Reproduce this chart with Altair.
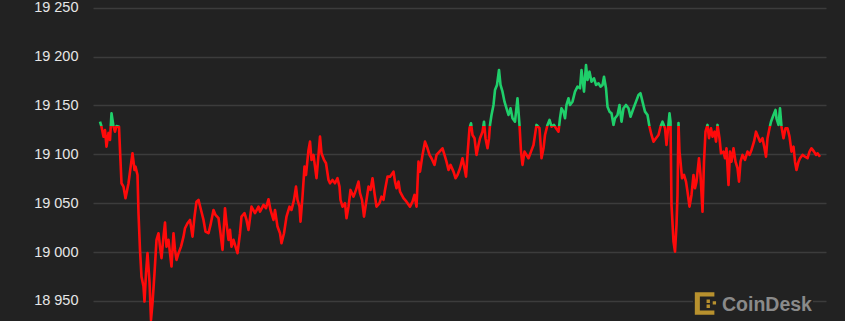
import altair as alt
import pandas as pd

# minutes since start of the 24h window (hidden x axis)
minutes = [0, 3, 7, 10, 13, 17, 20, 23, 27, 30, 33, 38, 40, 43, 47, 51, 57, 60, 65, 69,
           71, 75, 77, 80, 83, 87, 89, 92, 95, 99, 102, 105, 109, 113, 117, 120, 123, 127, 130, 133,
           137, 140, 143, 147, 150, 153, 157, 162, 167, 170, 175, 180, 185, 189, 193, 197, 202, 207, 211, 217,
           221, 227, 231, 237, 241, 245, 250, 253, 257, 260, 263, 267, 270, 275, 280, 283, 289, 293, 297, 303,
           310, 317, 320, 327, 332, 337, 341, 347, 350, 355, 360, 363, 368, 373, 379, 383, 388, 392, 395, 399,
           401, 405, 409, 412, 417, 420, 423, 427, 430, 433, 437, 440, 443, 448, 452, 457, 460, 465, 470, 475,
           479, 481, 485, 490, 493, 497, 501, 507, 512, 517, 520, 524, 528, 532, 537, 541, 545, 549, 553, 559,
           563, 567, 570, 575, 580, 587, 590, 593, 597, 600, 607, 613, 620, 625, 629, 633, 637, 640, 645, 650,
           655, 659, 663, 669, 673, 679, 685, 689, 693, 697, 701, 707, 711, 715, 720, 725, 729, 732, 735, 739,
           742, 745, 749, 753, 757, 760, 765, 768, 771, 775, 778, 780, 783, 787, 790, 794, 798, 801, 805, 809,
           813, 817, 821, 825, 830, 835, 839, 842, 845, 849, 853, 857, 862, 867, 873, 879, 883, 887, 890, 895,
           899, 903, 908, 912, 917, 920, 923, 927, 930, 933, 937, 940, 945, 950, 955, 960, 963, 968, 972, 975,
           979, 983, 988, 992, 997, 1001, 1005, 1008, 1012, 1015, 1019, 1023, 1027, 1030, 1035, 1039, 1043, 1047, 1052, 1057,
           1061, 1067, 1072, 1077, 1081, 1085, 1090, 1095, 1099, 1103, 1107, 1112, 1117, 1121, 1125, 1130, 1133, 1139, 1141, 1143,
           1147, 1150, 1153, 1155, 1157, 1159, 1161, 1164, 1168, 1172, 1175, 1179, 1183, 1187, 1190, 1193, 1198, 1201, 1205, 1208,
           1211, 1215, 1218, 1222, 1225, 1229, 1232, 1235, 1239, 1242, 1247, 1250, 1253, 1257, 1260, 1263, 1267, 1271, 1275, 1278,
           1281, 1285, 1290, 1295, 1299, 1303, 1308, 1312, 1316, 1320, 1325, 1329, 1332, 1335, 1339, 1342, 1347, 1351, 1353, 1357,
           1360, 1363, 1367, 1371, 1375, 1379, 1383, 1387, 1390, 1393, 1397, 1400, 1405, 1410, 1415, 1419, 1423, 1428, 1432, 1435,
           1440]

price = [19133.4, 19128.3, 19118.1, 19124.9, 19107.9, 19121.9, 19114.7, 19142.0, 19128.3, 19123.2,
         19129.0, 19128.3, 19104.5, 19070.4, 19067.0, 19055.1, 19070.4, 19082.3, 19101.1, 19084.0,
         19087.4, 19078.9, 19039.8, 19002.2, 18974.9, 18964.7, 18949.4, 18978.4, 18998.9, 18969.8,
         18930.7, 18947.7, 18978.4, 19012.5, 19019.3, 19005.6, 18993.8, 19015.8, 19030.2, 19005.6,
         19012.5, 18998.9, 18985.2, 19019.3, 19002.2, 18992.0, 18998.9, 19005.6, 19015.8, 19024.4,
         19029.5, 19032.9, 19015.8, 19036.3, 19051.6, 19053.4, 19043.1, 19032.9, 19021.0, 19019.3,
         19027.8, 19043.1, 19038.0, 19034.7, 19019.3, 19002.2, 19044.9, 19029.5, 19012.5, 19022.7,
         19005.6, 19012.5, 19007.4, 18998.9, 19019.3, 19036.3, 19039.8, 19032.9, 19022.7, 19046.5,
         19039.8, 19046.5, 19041.4, 19048.3, 19044.9, 19054.1, 19043.1, 19032.9, 19043.1, 19026.1,
         19019.3, 19009.1, 19019.3, 19036.3, 19046.5, 19043.1, 19053.4, 19067.0, 19053.4, 19046.5,
         19031.2, 19056.7, 19087.4, 19078.9, 19104.5, 19113.0, 19094.3, 19099.4, 19087.4, 19075.6,
         19099.4, 19118.1, 19101.1, 19094.3, 19090.9, 19073.8, 19070.4, 19073.8, 19070.4, 19075.6,
         19067.0, 19053.4, 19046.5, 19050.0, 19034.7, 19046.5, 19063.6, 19056.7, 19063.6, 19072.1,
         19060.2, 19053.4, 19036.3, 19050.0, 19067.0, 19063.6, 19075.6, 19060.2, 19046.5, 19050.0,
         19056.7, 19053.4, 19063.6, 19077.2, 19077.2, 19082.3, 19072.1, 19065.3, 19072.1, 19061.9,
         19055.1, 19051.6, 19046.5, 19051.6, 19058.5, 19046.5, 19092.5, 19082.3, 19099.4, 19113.0,
         19106.2, 19099.4, 19096.0, 19089.2, 19099.4, 19102.8, 19106.2, 19099.4, 19092.5, 19084.0,
         19089.2, 19082.3, 19075.6, 19078.9, 19085.8, 19096.0, 19085.8, 19077.2, 19099.4, 19126.7,
         19131.8, 19119.8, 19116.5, 19099.4, 19109.6, 19116.5, 19123.2, 19133.4, 19116.5, 19106.2,
         19116.5, 19130.1, 19140.3, 19150.5, 19165.8, 19171.0, 19186.3, 19171.0, 19164.1, 19153.9,
         19147.1, 19140.3, 19147.1, 19136.9, 19133.4, 19157.4, 19130.1, 19102.8, 19089.2, 19102.8,
         19099.4, 19096.0, 19102.8, 19109.6, 19130.1, 19126.7, 19096.0, 19106.2, 19119.8, 19130.1,
         19135.2, 19128.3, 19130.1, 19126.7, 19123.2, 19136.9, 19147.1, 19143.7, 19136.9, 19150.5,
         19157.4, 19150.5, 19153.9, 19164.1, 19169.2, 19167.6, 19186.3, 19164.1, 19191.4, 19176.1,
         19184.6, 19174.3, 19177.8, 19171.0, 19172.7, 19169.2, 19171.0, 19179.4, 19167.6, 19148.8,
         19143.7, 19142.0, 19130.1, 19136.9, 19140.3, 19150.5, 19133.4, 19147.1, 19150.5, 19147.1,
         19138.5, 19147.1, 19153.9, 19160.7, 19162.5, 19153.9, 19143.7, 19140.3, 19128.3, 19119.8,
         19113.0, 19116.5, 19119.8, 19128.3, 19133.4, 19126.7, 19109.6, 19142.0, 19133.4, 19048.3,
         19010.7, 19000.5, 19027.8, 19058.5, 19132.1, 19102.8, 19092.5, 19075.6, 19078.9, 19072.1,
         19061.9, 19046.5, 19058.5, 19078.9, 19065.3, 19072.1, 19096.0, 19078.9, 19041.4, 19092.5,
         19123.2, 19130.1, 19116.5, 19126.7, 19118.1, 19123.2, 19113.0, 19130.1, 19116.5, 19101.1,
         19102.8, 19096.0, 19106.2, 19068.7, 19102.8, 19092.5, 19106.2, 19092.5, 19085.8, 19072.1,
         19092.5, 19099.4, 19094.3, 19102.8, 19099.4, 19104.5, 19113.0, 19123.2, 19118.1, 19113.0,
         19116.5, 19106.2, 19097.6, 19116.5, 19126.7, 19133.4, 19140.3, 19145.4, 19136.9, 19130.1,
         19147.1, 19128.3, 19116.5, 19126.7, 19126.7, 19118.1, 19102.8, 19107.9, 19092.5, 19084.0,
         19092.5, 19096.0, 19099.4, 19097.6, 19096.0, 19102.8, 19106.2, 19102.8, 19099.4, 19101.1,
         19097.6]

threshold = 19129.0
y_ticks = [18950, 19000, 19050, 19100, 19150, 19200, 19250]

BG = "#222222"
GREEN = "#1fcf6a"
RED = "#ff0a0a"
GOLD = "#b8912e"

df = pd.DataFrame({"t": minutes, "price": price})

pmax, pmin = max(price), min(price)
off = (pmax - threshold) / (pmax - pmin)

grad = alt.Gradient(
    gradient="linear",
    x1=0, y1=0, x2=0, y2=1,
    stops=[
        alt.GradientStop(offset=0, color=GREEN),
        alt.GradientStop(offset=off, color=GREEN),
        alt.GradientStop(offset=off, color=RED),
        alt.GradientStop(offset=1, color=RED),
    ],
)

x_enc = alt.X("t:Q", scale=alt.Scale(domain=[-14, 1452], nice=False, zero=False), axis=None)
y_enc = alt.Y(
    "price:Q",
    scale=alt.Scale(domain=[18929.5, 19257.9], nice=False, zero=False),
    axis=alt.Axis(
        values=y_ticks,
        title=None,
        domain=False,
        ticks=False,
        tickSize=0,
        labelPadding=15,
        labelFontSize=14.5,
        labelFont="Liberation Sans",
        labelColor="#e6e6e6",
        labelExpr="replace(format(datum.value, ',d'), ',', ' ')",
        grid=True,
        gridColor="#3c3c3c",
        gridWidth=1.5,
    ),
)

line = alt.Chart(df).mark_line(stroke=grad, strokeWidth=2.6, strokeJoin="round").encode(
    x=x_enc, y=y_enc, order="t:Q"
)

logo_df = pd.DataFrame({"label": ["CoinDesk"]})
logo_bg = alt.Chart(logo_df).mark_rect(color=BG).encode(
    x=alt.value(600), x2=alt.value(720), y=alt.value(290), y2=alt.value(316)
)
logo_text = alt.Chart(logo_df).mark_text(
    align="left", baseline="alphabetic", fontSize=19.5, fontWeight="bold",
    font="Liberation Sans", color="#8a8a8a"
).encode(text="label:N", x=alt.value(629), y=alt.value(311))

icon_path = ("M-1,-1H0.75V-0.62H-0.55V0.62H0.75V1H-1Z"
             "M0.05,-0.35H0.35V-0.05H0.05Z"
             "M0.05,0.1H0.35V0.4H0.05Z"
             "M0.6,-0.2H0.9V0.1H0.6Z")
logo_icon = alt.Chart(logo_df).mark_point(
    shape=icon_path, filled=True, color=GOLD, opacity=1, size=500
).encode(x=alt.value(613), y=alt.value(303.5))

chart = alt.layer(line, logo_bg, logo_text, logo_icon).properties(
    width=733, height=321,
    background=BG,
    padding={"left": 93, "top": 0, "right": 19, "bottom": 0},
    autosize=alt.AutoSizeParams(type="none"),
).configure_view(stroke=None)

chart.save("out.html", embed_options={"renderer": "svg", "actions": False})
